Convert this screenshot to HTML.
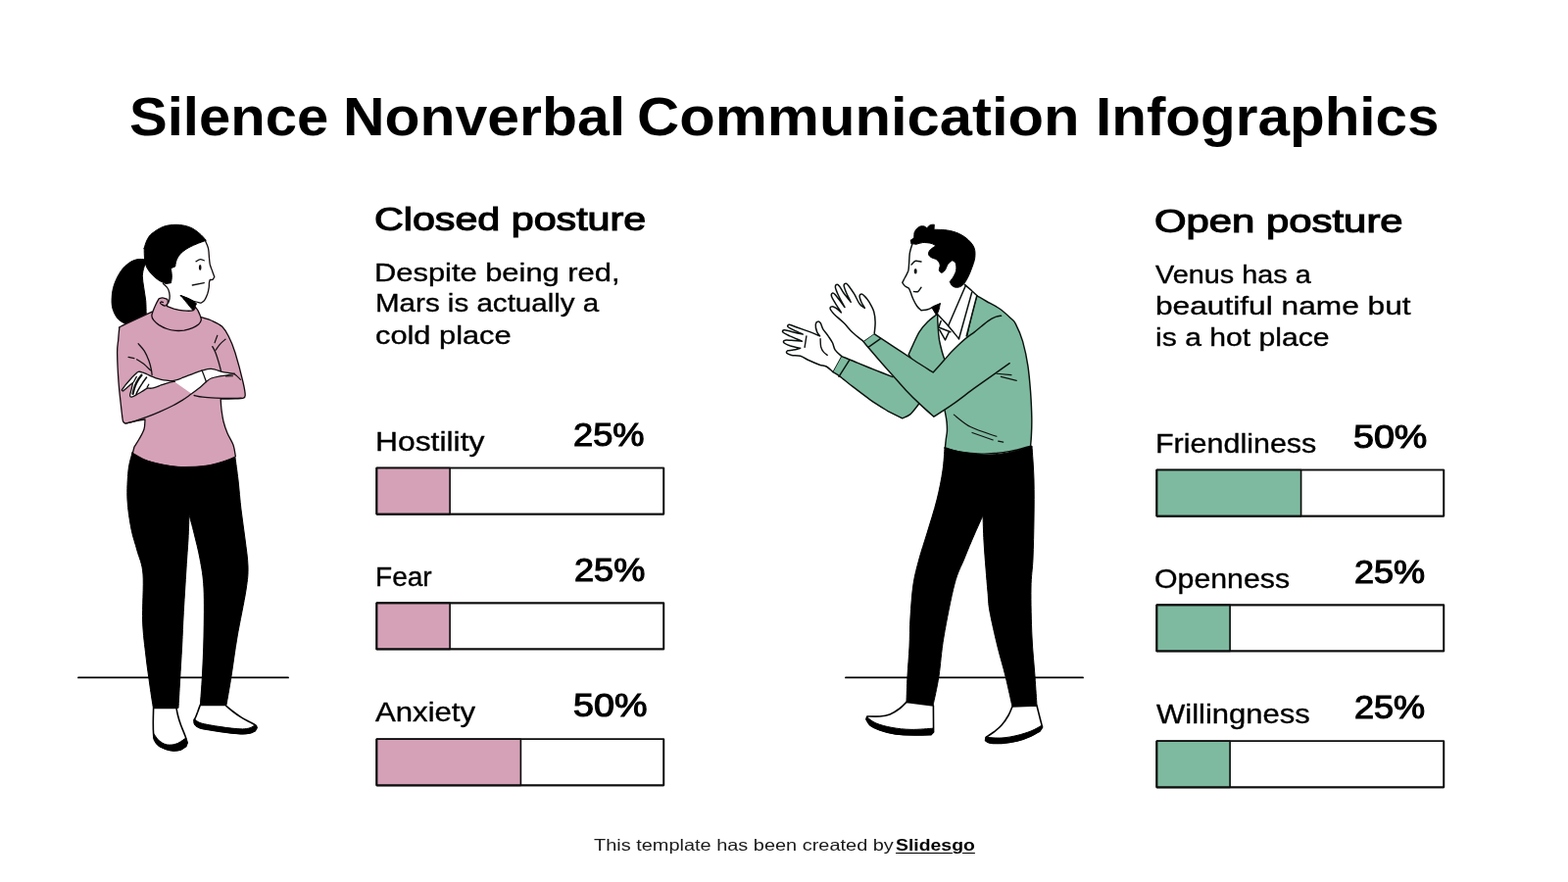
<!DOCTYPE html>
<html lang="en">
<head>
<meta charset="utf-8">
<title>Silence Nonverbal Communication Infographics</title>
<style>
html,body{margin:0;padding:0;background:#fff;}
body{width:1600px;height:900px;position:relative;overflow:hidden;font-family:"Liberation Sans",sans-serif;color:#000;}
h1{margin:0;font-size:0;line-height:0;}
.t{position:absolute;white-space:nowrap;line-height:1;transform-origin:0 0;margin:0;font-weight:normal;}
svg{position:absolute;left:0;top:0;overflow:visible;}
</style>
</head>
<body>
<!--TEXT-->
<h1 id="title"><span class="t" id="t1" style="left:131.95px;top:92.55px;font-size:54.65px;font-weight:bold;transform:scaleX(1.0622);">Silence</span> <span class="t" id="t2" style="left:349.98px;top:92.55px;font-size:54.65px;font-weight:bold;transform:scaleX(1.0786);">Nonverbal</span> <span class="t" id="t3" style="left:649.96px;top:92.55px;font-size:54.65px;font-weight:bold;transform:scaleX(1.0936);">Communication</span> <span class="t" id="t4" style="left:1117.61px;top:92.55px;font-size:54.65px;font-weight:bold;transform:scaleX(1.0692);">Infographics</span></h1>
<div class="t" id="h2a" style="left:381.71px;top:206.80px;font-size:33.21px;-webkit-text-stroke:1.15px #000;transform:scaleX(1.2410);">Closed posture</div>
<div class="t" id="ba1" style="left:382.49px;top:265.90px;font-size:25.44px;transform:scaleX(1.2132);-webkit-text-stroke:0.35px #000;">Despite being red,</div>
<div class="t" id="ba2" style="left:382.72px;top:296.89px;font-size:25.44px;transform:scaleX(1.1616);-webkit-text-stroke:0.35px #000;">Mars is actually a</div>
<div class="t" id="ba3" style="left:383.04px;top:329.89px;font-size:25.44px;transform:scaleX(1.2104);-webkit-text-stroke:0.35px #000;">cold place</div>
<div class="t" id="l1" style="left:382.56px;top:437.66px;font-size:26.89px;transform:scaleX(1.1845);-webkit-text-stroke:0.35px #000;">Hostility</div>
<div class="t" id="p1" style="left:585.24px;top:426.69px;font-size:33.94px;-webkit-text-stroke:1.15px #000;transform:scaleX(1.0674);">25%</div>
<div class="t" id="l2" style="left:383.23px;top:575.76px;font-size:26.74px;transform:scaleX(1.0494);-webkit-text-stroke:0.35px #000;">Fear</div>
<div class="t" id="p2" style="left:585.75px;top:564.82px;font-size:33.79px;-webkit-text-stroke:1.15px #000;transform:scaleX(1.0680);">25%</div>
<div class="t" id="l3" style="left:383.28px;top:713.77px;font-size:26.74px;transform:scaleX(1.1642);-webkit-text-stroke:0.35px #000;">Anxiety</div>
<div class="t" id="p3" style="left:585.44px;top:702.68px;font-size:33.94px;-webkit-text-stroke:1.15px #000;transform:scaleX(1.1105);">50%</div>
<div class="t" id="h2b" style="left:1178.03px;top:208.80px;font-size:33.21px;-webkit-text-stroke:1.15px #000;transform:scaleX(1.2604);">Open posture</div>
<div class="t" id="bb1" style="left:1179.18px;top:267.90px;font-size:25.44px;transform:scaleX(1.1332);-webkit-text-stroke:0.35px #000;">Venus has a</div>
<div class="t" id="bb2" style="left:1179.37px;top:299.90px;font-size:25.44px;transform:scaleX(1.2454);-webkit-text-stroke:0.35px #000;">beautiful name but</div>
<div class="t" id="bb3" style="left:1178.76px;top:331.91px;font-size:25.44px;transform:scaleX(1.1844);-webkit-text-stroke:0.35px #000;">is a hot place</div>
<div class="t" id="l4" style="left:1178.76px;top:439.54px;font-size:27.03px;transform:scaleX(1.1285);-webkit-text-stroke:0.35px #000;">Friendliness</div>
<div class="t" id="p4" style="left:1381.43px;top:428.68px;font-size:33.94px;-webkit-text-stroke:1.15px #000;transform:scaleX(1.1098);">50%</div>
<div class="t" id="l5" style="left:1178.19px;top:577.79px;font-size:26.74px;transform:scaleX(1.1331);-webkit-text-stroke:0.35px #000;">Openness</div>
<div class="t" id="p5" style="left:1381.76px;top:566.69px;font-size:33.94px;-webkit-text-stroke:1.15px #000;transform:scaleX(1.0631);">25%</div>
<div class="t" id="l6" style="left:1179.59px;top:715.77px;font-size:26.74px;transform:scaleX(1.1600);-webkit-text-stroke:0.35px #000;">Willingness</div>
<div class="t" id="p6" style="left:1381.76px;top:704.69px;font-size:33.94px;-webkit-text-stroke:1.15px #000;transform:scaleX(1.0631);">25%</div>
<div class="t" id="foot1" style="left:605.69px;top:854.79px;font-size:16.72px;transform:scaleX(1.1933);color:#1a1a1a;">This template has been created by</div>
<div class="t" id="foot2" style="left:914.45px;top:854.79px;font-size:16.72px;font-weight:bold;transform:scaleX(1.1616);text-decoration:underline;text-underline-offset:1.5px;text-decoration-thickness:1.3px;">Slidesgo</div>
<!--/TEXT-->
<!--BARS-->
<svg id="bars" width="1600" height="900" viewBox="0 0 1600 900" stroke="#0d0d0d" stroke-width="1.65" stroke-linejoin="round">
<rect x="384.4" y="477.5" width="292.9" height="47.1" fill="#fff"/><rect x="384.4" y="477.5" width="74.7" height="47.1" fill="#d5a1b7"/><rect x="384.4" y="477.5" width="292.9" height="47.1" fill="none"/>
<rect x="384.4" y="615.3" width="292.9" height="47.1" fill="#fff"/><rect x="384.4" y="615.3" width="74.7" height="47.1" fill="#d5a1b7"/><rect x="384.4" y="615.3" width="292.9" height="47.1" fill="none"/>
<rect x="384.4" y="754.2" width="292.9" height="47.1" fill="#fff"/><rect x="384.4" y="754.2" width="147.0" height="47.1" fill="#d5a1b7"/><rect x="384.4" y="754.2" width="292.9" height="47.1" fill="none"/>
<rect x="1180.4" y="479.5" width="292.9" height="47.1" fill="#fff"/><rect x="1180.4" y="479.5" width="147.2" height="47.1" fill="#7ebaa0"/><rect x="1180.4" y="479.5" width="292.9" height="47.1" fill="none"/>
<rect x="1180.4" y="617.3" width="292.9" height="47.1" fill="#fff"/><rect x="1180.4" y="617.3" width="74.7" height="47.1" fill="#7ebaa0"/><rect x="1180.4" y="617.3" width="292.9" height="47.1" fill="none"/>
<rect x="1180.4" y="756.2" width="292.9" height="47.1" fill="#fff"/><rect x="1180.4" y="756.2" width="74.7" height="47.1" fill="#7ebaa0"/><rect x="1180.4" y="756.2" width="292.9" height="47.1" fill="none"/>
</svg>
<!--/BARS-->
<!--FIGS-->
<svg id="woman" width="1600" height="900" viewBox="0 0 1600 900" stroke-linecap="round" stroke-linejoin="round">
<line x1="80" y1="691.4" x2="294" y2="691.4" stroke="#000" stroke-width="1.9" stroke-linecap="round"/>
<path d="M148,264.7C146.7,264.7 142.7,264.1 140,264.7C137.3,265.3 134.4,266.3 131.7,268.3C128.9,270.3 125.8,273.1 123.3,276.7C120.8,280.3 118.2,285.6 116.7,290C115.1,294.4 114.4,299.2 114.2,303.3C113.9,307.5 114,311.4 115,315C116,318.6 117.9,322.4 120,325C122.1,327.6 126.2,329.4 127.5,330.3C129.3,329.7 134.7,328.4 138.3,326.7C141.9,324.9 147.4,321.1 149.2,320C149.1,317.8 149.1,311.1 148.7,306.7C148.2,302.2 147.2,297.5 146.7,293.3C146.1,289.2 145.3,285.1 145.3,281.7C145.4,278.2 146.4,274.7 147,272.5C147.6,270.3 148.8,269 149.2,268.3Z" fill="#000" stroke="#000" stroke-width="1"/>
<path d="M166.5,289.5C167.2,290.2 169.9,292.4 171,294C172.1,295.6 172.5,297.2 172.8,299C173.2,300.8 173.2,303.2 173,305C172.8,306.8 171.6,309.2 171.3,310L200,318.3C199.6,316.9 199.7,312.6 197.5,310C195.3,307.4 188.5,303.8 186.7,302.5" fill="#fff" stroke="none"/>
<path d="M166.5,289.5C167.2,290.2 169.9,292.4 171,294C172.1,295.6 172.5,297.2 172.8,299C173.2,300.8 173.2,303.3 173,305C172.8,306.7 171.9,308.5 171.7,309.2" fill="none" stroke="#120a0e" stroke-width="1.3"/>
<path d="M209.2,245C209.7,246.4 211.8,250.3 212.5,253.3C213.2,256.4 213.2,260.6 213.5,263.3C213.8,266.1 213.8,267.8 214.3,270C214.9,272.2 215.9,274.6 216.7,276.7C217.4,278.8 218.5,281.5 218.8,282.5C218.5,283 217.8,284.9 217,285.3C216.2,285.8 214.8,285.3 214.3,285.3C214.2,285.8 213.7,287 213.5,288.3C213.3,289.7 213.5,291.4 213.2,293.3C212.9,295.3 212.4,297.8 211.7,300C210.9,302.2 209.8,304.8 208.7,306.3C207.6,307.9 205.6,308.7 205,309.2C203.9,308.9 200.8,308.3 198.3,307.5C195.8,306.7 192.4,305.1 190,304.2C187.6,303.2 185.1,302.1 184.2,301.7" fill="#fff" stroke="#120a0e" stroke-width="1.3"/>
<path d="M184.7,301.7C186.1,302.2 190.7,303.7 193.3,305C196,306.3 199.3,308.9 200.5,309.7L197.2,317C196,315.6 192.1,310.9 190,308.3C187.9,305.8 185.6,302.8 184.7,301.7Z" fill="#000" stroke="#000" stroke-width="1"/>
<path d="M200,266.8C200.7,266.5 202.8,264.8 204.2,264.7C205.6,264.5 207.6,265.6 208.3,265.8" fill="none" stroke="#111" stroke-width="1.3"/>
<ellipse cx="204.2" cy="273" rx="1.3" ry="3" fill="#120a0e"/>
<path d="M196.3,291L208.3,288.7" fill="none" stroke="#111" stroke-width="1.3"/>
<path d="M147.2,253.3C147.6,251.9 148.7,247.5 150,245C151.3,242.5 152.2,240.6 155,238.3C157.8,236.1 162.5,232.8 166.7,231.3C170.8,229.8 175.6,229.3 180,229.3C184.4,229.4 189.4,230.2 193.3,231.7C197.2,233.1 200.5,235.7 203.3,238C206.2,240.3 209.2,244.1 210.3,245.3C208.6,246 203.4,247.7 200,249.2C196.6,250.6 192.8,252.4 190,254.2C187.2,256 185,258.1 183.3,260C181.7,261.9 180.8,263.8 180,265.8C179.2,267.8 178.9,271 178.7,272L174.3,273.7C174.5,275 175.3,279.2 175.3,281.7C175.4,284.2 174.6,287.5 174.5,288.7L169.2,289.5C167.9,288.9 164,287.4 161.7,285.8C159.3,284.2 156.9,282.1 155,280C153.1,277.9 151.2,275.8 150,273.3C148.8,270.8 148.1,268.3 147.7,265C147.2,261.7 147.2,255.3 147.2,253.3Z" fill="#000" stroke="#000" stroke-width="1"/>
<path d="M155.2,318.2L140,325.2C137.2,326.5 126,331.7 123,333.3C120,335 122.2,332.8 121.8,335C121.4,337.2 121,342.5 120.7,346.7C120.3,350.8 119.5,352.8 119.6,360C119.7,367.2 120.4,381.7 121,390C121.6,398.3 122.4,404.3 123,410C123.6,415.7 124.2,420.7 124.6,424C125,427.3 125,428.6 125.6,430C126.2,431.4 127.6,431.8 128,432.2L140,429.4L148,428C147.8,429.7 148,434.7 147,438C146,441.3 143.7,445 142,448C140.3,451 137.8,454.7 137,456L135,463.6C137.5,464.7 142.5,468.3 150,470.4C157.5,472.5 170,475.6 180,476.4C190,477.2 201.7,476.4 210,475.4C218.3,474.4 224.9,472 230,470.4C235.1,468.8 238.7,466.7 240.4,466C240,464 239.4,458 238,454C236.6,450 233.7,446 232,442C230.3,438 229,434 228,430C227,426 226.5,421.8 226,418C225.5,414.2 225.3,409 225.2,407.2C227.7,407.1 236.3,406.9 240,406.8C243.7,406.7 245.9,406.9 247.6,406.4C249.3,405.9 250.1,406.3 250.2,403.6C250.3,400.9 249.7,397.3 248,390C246.3,382.7 242.4,367.8 240,360C237.6,352.2 235.6,347.8 233.3,343.3C231.1,338.9 229.4,336 226.7,333.3C223.9,330.7 220.2,329.1 216.7,327.5C213.1,325.9 207.2,324.3 205.3,323.7Z" fill="#d5a1b7" stroke="#120a0e" stroke-width="1.3"/>
<path d="M162.2,304.7C161.7,305.6 160.2,308 159.2,310.2C158.2,312.3 156.8,315.5 156.1,317.5C155.4,319.5 154.8,320.9 154.9,322.4C155,323.9 155.5,325.2 156.7,326.7C157.9,328.2 160,330.1 162.2,331.6C164.5,333 167.3,334.6 170.2,335.5C173,336.5 176.4,337.1 179.3,337.4C182.3,337.6 185.1,337.5 187.9,337.1C190.8,336.6 194,335.6 196.5,334.6C198.9,333.6 201.1,332.3 202.6,331C204.1,329.6 205,328.1 205.3,326.7C205.6,325.3 205,324 204.4,322.4C203.9,320.8 202.4,317.8 202,316.9L199.6,313.5C199.1,314.1 198.6,316.3 196.5,316.9C194.3,317.5 189.8,317.2 186.7,316.9C183.5,316.6 180.3,315.8 177.5,315.1C174.8,314.3 171.4,312.8 170.2,312.3C170.4,311.7 171.2,309.5 171.3,308.3C171.4,307.2 170.9,305.8 170.8,305.3C170,305 167.3,304 165.9,303.9C164.5,303.8 162.8,304.5 162.2,304.7Z" fill="#d5a1b7" stroke="#120a0e" stroke-width="1.3"/>
<path d="M170.5,310.5C170.1,310.8 169.2,312.1 168.3,312.1C167.5,312.2 166.1,311.3 165.3,310.8C164.5,310.3 163.7,309.7 163.6,309.3C163.4,308.8 164,308.2 164.5,308C165,307.9 166.1,308.4 166.4,308.5" fill="none" stroke="#120a0e" stroke-width="1.3"/>
<path d="M141.3,379.3C141.9,379.4 143.4,379.3 144.9,379.8C146.4,380.2 148.4,381.2 150.2,382C152,382.8 153.9,383.7 155.6,384.4C157.2,385.1 158.5,385.7 160,386.2C161.5,386.7 162.8,387 164.4,387.3C166.1,387.7 168,388 170,388.2C172,388.4 173.8,389 176.2,388.6C178.8,388.3 181.4,387.3 185,386C188.6,384.7 194.6,382.1 198.1,380.8C201.6,379.4 203.1,378.9 206,378.1C208.9,377.4 211.8,376.1 215.6,376.4C219.4,376.7 224.8,379.1 228.8,379.9C232.7,380.7 237.5,381 239.2,381.2L239.2,381.8C237.9,382 233.9,382.6 231.4,382.9C228.9,383.3 227,383.3 224.4,383.8C221.8,384.3 218,385.1 215.6,386C213.3,386.9 212.6,387.8 210.4,389.5C208.2,391.2 205,394.5 202.5,396.5C200,398.5 196.7,400.9 195.5,401.8L178,389.5C177.4,389.6 175.8,389.7 174.5,389.9C173.2,390.2 171.7,390.6 170,391.1C168.3,391.6 166.1,392.3 164.4,392.9C162.8,393.5 161.6,394.1 160,394.7C158.4,395.2 156.2,396 154.7,396.2C153.1,396.4 151.3,396 150.7,396C150.4,396.1 150,396.2 148.9,396.9C147.8,397.6 145.7,399 144,400C142.3,401 140.2,402.3 138.7,403.1C137.1,403.9 135.6,404.7 134.7,405C133.7,405.2 133.3,405.1 133,404.7C132.6,404.3 132.5,404 132.7,402.7C132.9,401.4 133.7,398.9 134.2,396.9C134.7,394.9 135.3,391.5 135.6,390.4C134.7,391.2 131.8,393.7 130.2,395.1C128.6,396.5 126.9,398.1 126,398.7C125.1,399.3 125.2,398.9 125,398.8C124.7,398.7 123.9,399 124.4,398C124.9,397 126.5,394.8 128,392.9C129.5,391 131.6,388.6 133.3,386.7C135.1,384.7 137.3,382.6 138.7,381.3C140,380.1 140.9,379.7 141.3,379.3Z" fill="#fff" stroke="none"/>
<path d="M124.4,398C125,397.1 126.5,394.8 128,392.9C129.5,391 131.6,388.6 133.3,386.7C135.1,384.7 137.3,382.6 138.7,381.3C140,380.1 140.3,379.6 141.3,379.3C142.4,379.1 143.4,379.3 144.9,379.8C146.4,380.2 148.4,381.2 150.2,382C152,382.8 153.9,383.7 155.6,384.4C157.2,385.1 158.5,385.7 160,386.2C161.5,386.7 162.8,387 164.4,387.3C166.1,387.7 168,388 170,388.2C172,388.4 173.8,389 176.2,388.6C178.8,388.3 181.4,387.3 185,386C188.6,384.7 194.6,382.1 198.1,380.8C201.6,379.4 203.1,378.9 206,378.1C208.9,377.4 211.8,376.1 215.6,376.4C219.4,376.7 224.8,379.1 228.8,379.9C232.7,380.7 237.5,381 239.2,381.2" fill="none" stroke="#111" stroke-width="1.3"/>
<path d="M124.4,398C124.5,398.1 124.7,398.7 125,398.8C125.2,398.9 125.1,399.3 126,398.7C126.9,398.1 128.6,396.5 130.2,395.1C131.8,393.7 134.7,391.2 135.6,390.4C135.3,391.5 134.7,394.9 134.2,396.9C133.7,398.9 132.9,401.4 132.7,402.7C132.5,404 132.6,404.3 133,404.7C133.3,405.1 133.7,405.2 134.7,405C135.6,404.7 137.1,403.9 138.7,403.1C140.2,402.3 142.3,401 144,400C145.7,399 148.1,397.4 148.9,396.9C149.2,396.7 149.7,396.1 150.7,396C151.6,395.9 153.1,396.4 154.7,396.2C156.2,396 158.4,395.2 160,394.7C161.6,394.1 162.8,393.5 164.4,392.9C166.1,392.3 168.3,391.6 170,391.1C171.7,390.6 173.1,390.2 174.5,389.9C175.9,389.6 177.8,389.4 178.4,389.3" fill="none" stroke="#111" stroke-width="1.3"/>
<path d="M151.8,392.2L150.2,395.1" fill="none" stroke="#111" stroke-width="1.2"/>
<path d="M144.4,382.8C143.9,383.6 142,385.7 140.9,387.6C139.8,389.4 138.7,391.4 137.8,393.8C136.9,396.1 135.9,400.4 135.6,401.8" fill="none" stroke="#111" stroke-width="2.3"/>
<path d="M149.6,385C148.8,386.1 146.3,389.3 144.9,391.6C143.4,393.8 141.9,396.4 140.9,398.2C139.9,400 139.2,401.7 138.9,402.4" fill="none" stroke="#111" stroke-width="1.5"/>
<path d="M139.3,384.4L136.4,389.8" fill="none" stroke="#111" stroke-width="1.2"/>
<path d="M206,378.1C206.4,379 207.5,381.5 208.2,383.4C208.9,385.3 210,388.5 210.4,389.5" fill="none" stroke="#111" stroke-width="1.3"/>
<path d="M210.4,389.5C211.2,388.9 213.3,386.9 215.6,386C218,385.1 221.8,384.3 224.4,383.8C227,383.3 228.9,383.3 231.4,382.9C233.9,382.6 237.9,381.8 239.2,381.6" fill="none" stroke="#111" stroke-width="1.3"/>
<path d="M230.5,383.9L237.5,383.7" fill="none" stroke="#111" stroke-width="1.1"/>
<path d="M239.2,381.6C239.7,382 240.9,382.9 241.9,383.8C242.9,384.8 244.8,386.7 245.4,387.3" fill="none" stroke="#111" stroke-width="1.1"/>
<path d="M129,431.9C130.3,431.6 133.4,430.8 136.9,429.8C140.4,428.7 145.6,427 150,425.4C154.4,423.8 158.8,422 163.1,420.1C167.5,418.2 172.3,416 176.2,414C180.2,412 183.5,409.9 186.8,407.9C190,405.8 192.9,403.6 195.5,401.8C198.1,399.9 200,398.5 202.5,396.5C205,394.5 209.1,390.7 210.4,389.5" fill="none" stroke="#111" stroke-width="1.3"/>
<path d="M198.1,403.5C199.6,403.8 203.2,404.8 206.9,405.2C210.5,405.7 214.9,405.9 220,406.1C225.1,406.3 233.1,406.3 237.5,406.3C241.9,406.3 244.8,406.2 246.2,406.1" fill="none" stroke="#111" stroke-width="1.3"/>
<path d="M141.1,350.7C142.1,352 145.5,355.2 147.3,358.1C149.1,361 150.8,365.1 152,368.2C153.2,371.3 153.8,374.4 154.3,376.8C154.9,379.2 155,381.6 155.1,382.6" fill="none" stroke="#111" stroke-width="1.3"/>
<path d="M131,364.4L137,365.6" fill="none" stroke="#111" stroke-width="1.1"/>
<path d="M139.6,366.7C140.7,367.4 144.2,369.5 146.6,371.3C148.9,373.2 152.4,376.8 153.6,377.9" fill="none" stroke="#111" stroke-width="1.2"/>
<path d="M221.8,342.3C221.6,342.9 220.7,344.9 220.3,346.2C219.8,347.4 219.3,349.1 219.1,349.7" fill="none" stroke="#111" stroke-width="1.2"/>
<path d="M230,346.2C229.1,347 226.2,349.3 224.6,351.2C222.9,353.1 220.7,356.4 219.9,357.4" fill="none" stroke="#111" stroke-width="1.2"/>
<path d="M216.8,353.6C217.3,354.6 218.9,357.2 219.9,359.8C220.9,362.4 222.2,366.5 223,369.1C223.8,371.8 224.4,374.1 224.8,375.7C225.2,377.3 225.3,378.1 225.4,378.6" fill="none" stroke="#111" stroke-width="1.3"/>
<path d="M135,462C137.5,463.3 144.2,467.8 150,470C155.8,472.2 162.7,473.8 170,475C177.3,476.2 186,477.2 194,477C202,476.8 210.3,475.7 218,474C225.7,472.3 236.3,468.2 240,467C240.5,470.8 242,481.2 243,490C244,498.8 244.8,510 246,520C247.2,530 248.8,540.3 250,550C251.2,559.7 252.8,569.3 253,578C253.2,586.7 252.8,590 251,602C249.2,614 244.5,635.3 242,650C239.5,664.7 237.8,678.4 236,690C234.2,701.6 231.8,714.5 231,719.4C230.2,719.7 230.4,721.3 226,721.2C221.6,721.1 208,719.4 204.4,719C204.7,714.2 205.8,701.5 206.4,690C207,678.5 207.7,665 208,650C208.3,635 208.7,613.3 208,600C207.3,586.7 205.7,579.3 204,570C202.3,560.7 199.8,551.5 198,544C196.2,536.5 193.8,528.2 193,525C192.8,529.2 192.5,540.8 192,550C191.5,559.2 190.8,566.7 190,580C189.2,593.3 187.7,616.7 187,630C186.3,643.3 186.2,649.3 185.6,660C185,670.7 184.2,683.6 183.6,694C183,704.4 182.3,717.7 182,722.4L156.4,722.4C155.8,718.7 154.2,708.7 153,700C151.8,691.3 150.2,681 149,670C147.8,659 146.1,648 145.6,634C145.1,620 146.9,598 146,586C145.1,574 142,569.7 140,562C138,554.3 135.7,548.7 134,540C132.3,531.3 130.5,520 130,510C129.5,500 130.2,488 131,480C131.8,472 134.3,465 135,462Z" fill="#000" stroke="#000" stroke-width="1"/>
<path d="M156.6,722.5C156.6,725 156.3,733.1 156.3,737.5C156.3,741.9 156.4,745.9 156.6,748.8C156.8,751.6 156.6,752.8 157.5,754.8C158.4,756.8 160,759.1 162,760.8C164,762.4 167,763.6 169.5,764.5C172,765.4 174.5,765.9 177,766C179.5,766.1 182.4,765.6 184.5,764.9C186.6,764.1 188.9,762.1 189.8,761.5L191.1,757.9C190.8,756.8 190.1,754 189,751C187.9,748 185.8,743.2 184.5,739.8C183.2,736.2 182.2,732.9 181.5,730C180.8,727.1 180.2,723.8 180,722.5Z" fill="#fff" stroke="#000" stroke-width="1.6"/>
<path d="M156.6,748.4C156.8,749.4 156.6,752.7 157.5,754.8C158.4,756.8 160,759.1 162,760.8C164,762.4 167,763.6 169.5,764.5C172,765.4 174.5,765.9 177,766C179.5,766.1 182.4,765.6 184.5,764.9C186.6,764.1 188.9,762.1 189.8,761.5L191.1,757.9L189.6,752.9C189.1,753.2 188.1,754.2 186.8,755.1C185.4,756 183.6,757.5 181.5,758.4C179.4,759.2 176.4,760.1 174,760.1C171.6,760.2 169.4,759.8 167.2,758.9C165.1,758 162.2,755.4 161.2,754.8L156.6,748.4Z" fill="#000" stroke="#000" stroke-width="1"/>
<path d="M204.4,719.1C203.9,720.3 202.6,723.9 201.8,726.2C200.9,728.6 199.6,731.9 199.1,733L198,734.6C198.1,735.4 197.8,737.6 198.8,739C199.8,740.4 201.5,741.8 204,742.8C206.5,743.7 210.2,744 213.8,744.6C217.2,745.2 221.2,745.9 225,746.5C228.8,747.1 232.5,747.6 236.2,748C240,748.4 244.4,748.8 247.5,748.8C250.6,748.8 252.9,748.5 255,748C257.1,747.5 259.4,746.1 260.2,745.8L262.1,742.5C261.9,742.1 262,741.1 260.9,740.1C259.7,739.2 257.5,738.1 255,736.8C252.5,735.4 249,733.8 246,731.9C243,730 239.7,727.6 237,725.5C234.3,723.4 231.1,720.5 229.9,719.5Z" fill="#fff" stroke="#000" stroke-width="1.6"/>
<path d="M198.4,733.8C198.4,734.6 197.8,737.5 198.8,739C199.7,740.5 201.5,741.8 204,742.8C206.5,743.7 210.2,744 213.8,744.6C217.2,745.2 221.2,745.9 225,746.5C228.8,747.1 232.5,747.6 236.2,748C240,748.4 244.4,748.8 247.5,748.8C250.6,748.8 252.9,748.5 255,748C257.1,747.5 259.4,746.1 260.2,745.8L262.1,742.5L260.2,739.9C259.4,740.4 257.1,742.1 255,742.8C252.9,743.4 250.6,743.8 247.5,743.9C244.4,743.9 240,743.5 236.2,743.1C232.5,742.8 228.8,742.2 225,741.6C221.2,741.1 217.2,740.4 213.8,739.8C210.2,739.1 206.6,738.5 204,737.5C201.4,736.5 199.3,734.4 198.4,733.8Z" fill="#000" stroke="#000" stroke-width="1"/>
</svg>
<svg id="man" width="1600" height="900" viewBox="0 0 1600 900" stroke-linecap="round" stroke-linejoin="round">
<line x1="863" y1="691.4" x2="1105" y2="691.4" stroke="#000" stroke-width="1.9" stroke-linecap="round"/>
<path d="M858.4,363.3C861.3,364.5 869.6,368.1 875.3,370.4C881.1,372.8 887.2,375.2 893.1,377.6C899,379.9 907.9,383.5 910.9,384.7L950,394.4L937.6,412.2L928.7,422.9L920.7,426.8C918.1,425.6 911,422.5 905.6,419.3C900.1,416.2 893.7,411.9 887.8,407.8C881.9,403.6 875.2,398.4 870,394.4C864.8,390.4 860.1,386.3 856.7,383.8C853.3,381.3 850.7,380.1 849.6,379.3Z" fill="#7ebaa0" stroke="none"/>
<path d="M910.9,384.7C907.9,383.5 899,379.9 893.1,377.6C887.2,375.2 881.1,372.8 875.3,370.4C869.6,368.1 861.3,364.5 858.4,363.3L849.6,379.3C850.7,380.1 853.3,381.3 856.7,383.8C860.1,386.3 864.8,390.4 870,394.4C875.2,398.4 881.9,403.6 887.8,407.8C893.7,411.9 902.6,417.4 905.6,419.3L920.7,426.8C922,426.1 925.9,425.3 928.7,422.9C931.5,420.5 936.1,414 937.6,412.2" fill="none" stroke="#0a120e" stroke-width="1.45"/>
<path d="M866.8,367.4L856,384.3" fill="none" stroke="#0a120e" stroke-width="1.45"/>
<path d="M858.4,363.3C857.4,362.3 853.7,359.3 852.2,357.1C850.7,354.9 850.7,352.4 849.6,350C848.4,347.6 846.7,345.3 845.1,342.9C843.5,340.5 841.1,338 839.8,335.8C838.5,333.6 838.1,331 837.3,329.7C836.4,328.4 835.5,327.7 834.6,328C833.8,328.2 832.5,329.4 832.3,331.2C832.1,332.9 832.8,336.5 833.6,338.4C834.3,340.4 836.1,342.1 836.6,342.9C834.7,342.1 829.5,339.9 825.6,338.4C821.6,337 816.4,335.2 813.1,334C809.8,332.8 807.2,331.5 805.6,331.3C804.1,331.2 803.2,332.4 803.9,333.3C804.5,334.2 807,335.4 809.6,336.7C812.1,338 817.7,340.4 819.3,341.1C817.4,340.7 810.9,339.2 807.8,338.4C804.6,337.7 801.8,336.6 800.3,336.7C798.8,336.8 797.9,337.9 798.9,339C799.8,340 802.7,341.3 806,342.9C809.3,344.4 816.4,347.3 818.4,348.2C816.7,348.1 810.7,347.5 807.8,347.3C804.9,347.2 802.4,346.8 801,347.2C799.7,347.5 798.9,348.7 799.8,349.6C800.6,350.6 803.2,351.7 806,352.7C808.8,353.6 814.9,354.9 816.7,355.3C815.5,355.6 811.7,356.7 809.6,357.1C807.4,357.5 804.8,357.3 803.7,357.8C802.6,358.4 802.1,359.5 802.8,360.3C803.5,361.1 805.5,361.9 807.8,362.4C810.1,362.9 813.7,362.4 816.7,363.3C819.6,364.2 822.3,366.3 825.6,367.8C828.8,369.3 833.3,371.2 836.2,372.2C839.2,373.3 841.1,372.8 843.3,374C845.6,375.2 848.5,378.4 849.6,379.3" fill="#fff" stroke="#0a120e" stroke-width="1.5"/>
<path d="M822.9,342.9L821.1,354.4" fill="none" stroke="#111" stroke-width="1.4"/>
<path d="M837.1,345.6C837.2,346.9 837.1,351.3 837.6,353.6C838.1,355.8 839,357.4 840.1,358.9C841.2,360.4 843.5,361.9 844.2,362.4" fill="none" stroke="#111" stroke-width="1.4"/>
<path d="M955.8,320.8C954.3,322.1 949.6,325.4 946.7,328.3C943.8,331.2 940.8,334.4 938.3,338.3C935.8,342.2 933.5,347.8 931.7,351.7C929.8,355.6 927.9,360.1 927.1,361.8L964.1,419C964.4,420.9 965.7,426.7 966,430.2C966.4,433.7 966.5,437 966.4,440C966.3,443 965.7,445.2 965.3,448C965,450.8 964.6,455.4 964.4,456.9C967,457.6 972.9,460.3 979.6,461.3C986.2,462.4 995.9,463.3 1004.4,463.1C1013,463 1023.3,461.8 1031.1,460.4C1039,459.1 1048.1,456 1051.6,455.1C1051.7,453.3 1052.2,449.2 1052.4,444.4C1052.7,439.7 1052.9,434.1 1052.8,426.7C1052.7,419.3 1052.2,408.9 1051.6,400C1050.9,391.1 1050.2,381.9 1048.9,373.3C1047.6,364.7 1045.6,355.6 1043.6,348.4C1041.5,341.3 1038.4,334.6 1036.4,330.7C1034.5,326.8 1034.4,327.6 1031.7,325C1028.9,322.4 1024.2,317.9 1020,315C1015.8,312.1 1010.6,309.7 1006.7,307.5C1002.8,305.3 998.3,302.6 996.7,301.7C995.8,305 993,314.9 991.3,321.7C989.7,328.5 987.4,339 986.7,342.5L966.7,331.7Z" fill="#7ebaa0" stroke="#0a120e" stroke-width="1.45"/>
<path d="M955.8,320.8C956.1,322.6 957.1,327.6 957.5,331.7C957.9,335.7 957.8,340.8 958.3,345C958.9,349.2 959.9,353.1 960.8,356.7C961.7,360.3 963.3,365 963.8,366.7C965,365.4 968.5,361.6 970.9,359.1C973.3,356.7 975.4,354.4 978,352C980.6,349.6 985,345.7 986.4,344.4C986.5,344.1 985.9,346.3 986.7,342.5C987.5,338.7 989.7,328.5 991.3,321.7C993,314.9 995.8,305 996.7,301.7L984.2,292.5L969.2,288.3L959.2,310Z" fill="#fff" stroke="none"/>
<path d="M956.7,320.9C956.7,323 956.8,329 957.1,333.3C957.4,337.6 957.8,342.5 958.4,346.7C959.1,350.8 960.2,354.9 961.1,358.2C962,361.6 963.3,365.3 963.8,366.7" fill="none" stroke="#0a120e" stroke-width="1.45"/>
<path d="M985.1,292L967.6,332.5" fill="none" stroke="#0a120e" stroke-width="1.5"/>
<path d="M991.7,298.2L978.5,345.7" fill="none" stroke="#0a120e" stroke-width="1.5"/>
<path d="M996.8,301.7L986.2,343" fill="none" stroke="#0a120e" stroke-width="1.5"/>
<path d="M984.3,290.4C985.5,291.5 989.6,294.8 991.7,296.7C993.8,298.5 995.9,300.7 996.8,301.5" fill="none" stroke="#0a120e" stroke-width="1.5"/>
<path d="M956.7,320.8C958.5,322.7 963.9,328.3 967.6,332.5C971.2,336.6 976.6,343.5 978.5,345.7" fill="none" stroke="#0a120e" stroke-width="1.5"/>
<path d="M960.2,327.4L957.8,334L969.9,338.7" fill="none" stroke="#0a120e" stroke-width="1.5"/>
<path d="M958.6,336.4L964.5,346.9L968.3,338.7" fill="none" stroke="#0a120e" stroke-width="1.5"/>
<path d="M1016.9,381.3L1032,382.6" fill="none" stroke="#111" stroke-width="1.1"/>
<path d="M1021.3,384.4L1037.3,388.4" fill="none" stroke="#111" stroke-width="1.1"/>
<path d="M973.3,423.1C976.1,425.2 983,431.9 990.2,435.6C997.5,439.3 1012.4,443.7 1016.9,445.3" fill="none" stroke="#111" stroke-width="1.1"/>
<path d="M992,441.4L1013.3,448.9" fill="none" stroke="#111" stroke-width="1.1"/>
<path d="M1018.7,450.1L1023.6,451.2" fill="none" stroke="#111" stroke-width="1.3"/>
<path d="M1021.6,322.2C1020.5,322.4 1017.6,322.7 1015.3,323.6C1013.1,324.4 1010.6,325.9 1008.2,327.6C1005.9,329.2 1003.5,331.4 1001.1,333.3C998.7,335.3 996.5,337.2 994,339.1C991.5,341 988.7,342.7 986,344.9C983.3,347 980.5,349.6 978,352C975.5,354.4 973.3,356.6 970.9,359.1C968.5,361.6 966.9,363.6 963.8,367.1C960.7,370.6 954.1,377.9 952.2,380C949.1,378 940,372.4 933.3,368C926.6,363.6 919,358.4 912,353.8C905,349.2 895,342.7 891.6,340.4L880.7,348.3C881.5,349.2 882.8,350.8 885.3,353.8C887.9,356.8 891.9,361.5 896,366.2C900.1,371 905.5,376.9 910.2,382.2C915,387.6 919.7,393.2 924.4,398.2C929.2,403.3 933.9,407.9 938.7,412.4C943.4,416.9 950.5,423.1 952.9,425.2C956.1,423.1 965.6,417.2 972.4,412.4C979.3,407.6 986.7,401.6 993.8,396.4C1000.9,391.3 1009,385.6 1015.1,381.3C1021.2,377 1027.7,372.4 1030.2,370.7Z" fill="#7ebaa0" stroke="none"/>
<path d="M1021.6,322.2C1020.5,322.4 1017.6,322.7 1015.3,323.6C1013.1,324.4 1010.6,325.9 1008.2,327.6C1005.9,329.2 1003.5,331.4 1001.1,333.3C998.7,335.3 996.5,337.2 994,339.1C991.5,341 988.7,342.7 986,344.9C983.3,347 980.5,349.6 978,352C975.5,354.4 973.3,356.6 970.9,359.1C968.5,361.6 966.9,363.6 963.8,367.1C960.7,370.6 954.1,377.9 952.2,380C949.1,378 940,372.4 933.3,368C926.6,363.6 919,358.4 912,353.8C905,349.2 895,342.7 891.6,340.4L880.7,348.3C881.5,349.2 882.8,350.8 885.3,353.8C887.9,356.8 891.9,361.5 896,366.2C900.1,371 905.5,376.9 910.2,382.2C915,387.6 919.7,393.2 924.4,398.2C929.2,403.3 933.9,407.9 938.7,412.4C943.4,416.9 950.5,423.1 952.9,425.2C956.1,423.1 965.6,417.2 972.4,412.4C979.3,407.6 986.7,401.6 993.8,396.4C1000.9,391.3 1009,385.6 1015.1,381.3C1021.2,377 1027.7,372.4 1030.2,370.7" fill="none" stroke="#0a120e" stroke-width="1.45"/>
<path d="M886,354.4L898.4,345.6" fill="none" stroke="#0a120e" stroke-width="1.45"/>
<path d="M892.2,340.2C892.4,338.3 893.2,332.4 893.1,328.7C893,325 892.7,321.4 891.7,318C890.7,314.6 888.4,310.8 886.9,308.2C885.3,305.6 883.7,303.7 882.4,302.4C881.2,301 880.3,299.9 879.4,299.9C878.5,299.8 877.2,300.6 877.1,302C877,303.4 878,306.1 878.9,308.2C879.8,310.3 881.9,313.4 882.4,314.4C881.6,313.7 878.9,312.4 877.1,310C875.3,307.6 873.6,303.2 871.8,300.2C870,297.3 867.8,294.1 866.4,292.2C865.1,290.4 864.3,289.3 863.4,289.2C862.5,289.1 861.1,289.6 861.1,291.3C861.2,293 862.6,296.5 863.8,299.3C865,302.1 867.5,306.7 868.2,308.2C867,306.7 863,302 861.1,299.3C859.2,296.7 857.9,293.7 856.7,292.2C855.5,290.7 854.7,290.1 854,290.3C853.3,290.4 852.1,291.2 852.4,293.1C852.7,295.1 854.2,298.6 855.8,302C857.4,305.4 861,311.6 862,313.6C861.1,312.4 858.3,308.6 856.7,306.4C855,304.3 853.4,301.8 852.2,300.6C851,299.4 850,298.9 849.4,299.2C848.8,299.5 848,300.7 848.5,302.4C849,304 850.6,306.4 852.2,309.1C853.9,311.9 857.4,317.3 858.4,318.9C857.6,318.1 854.7,315.5 853.1,314.4C851.6,313.4 850.2,312.6 849.2,312.7C848.2,312.7 846.7,313.5 847.1,314.8C847.4,316.1 849,318.2 851.3,320.7C853.7,323.1 858,326.4 861.1,329.6C864.2,332.7 866.7,336.2 870,339.3C873.3,342.4 878.9,346.7 880.7,348.2" fill="#fff" stroke="#0a120e" stroke-width="1.5"/>
<path d="M930.8,249.2C930.4,250.7 928.9,254.9 928.3,258.3C927.8,261.8 927.8,266.9 927.5,270C927.2,273.1 927.5,274.2 926.7,276.7C925.8,279.2 923.2,283.6 922.5,285L920.8,288.3C921.2,288.9 922.2,290.7 923.3,291.7C924.4,292.6 926.8,293.8 927.5,294.2C927.8,294.9 928.5,296.5 929.2,298.3C929.9,300.1 930.6,302.6 931.7,305C932.8,307.4 934.4,310.6 935.8,312.5C937.2,314.4 939.3,316 940,316.7C941.1,316.5 944.4,316.5 946.7,315.8C948.9,315.1 951.2,313.5 953.3,312.5C955.4,311.5 958.2,310.4 959.2,310" fill="#fff" stroke="#0a120e" stroke-width="1.45"/>
<path d="M959.2,310L950.8,313.8L955.8,322C956.2,320.8 957.8,317 958.3,315C958.9,313 959,310.8 959.2,310Z" fill="#000" stroke="#000" stroke-width="1"/>
<path d="M930,248.3L929.2,245C929.7,244.6 931.8,243.9 932.5,242.5C933.2,241.1 932.5,238.5 933.3,236.7C934.2,234.9 936,232.6 937.5,231.7C939,230.7 941.1,230.7 942.5,230.8C943.9,231 945.3,232.4 945.8,232.7C946.4,232.2 947.9,230.2 949.2,229.7C950.4,229.1 952.6,229.2 953.3,229.2L953,234.2C955.3,234.3 962.4,234.3 966.7,235C970.9,235.7 974.7,236.7 978.3,238.3C981.9,240 985.7,242.5 988.3,245C991,247.5 993.1,250.3 994.2,253.3C995.2,256.4 995.1,260 994.7,263.3C994.2,266.7 992.9,270 991.7,273.3C990.5,276.7 989,280.4 987.5,283.3C986,286.2 984.3,289.2 982.5,290.8C980.7,292.5 978.5,293.2 976.7,293.3C974.9,293.5 972.9,292.6 971.7,291.7C970.4,290.7 969.6,288.2 969.2,287.5C969.9,286.5 972.2,283.8 973.3,281.7C974.4,279.6 975.6,277.2 975.8,275C976.1,272.8 975.7,269.9 975,268.3C974.3,266.8 972.2,266.2 971.7,265.8C971,266.4 968.8,267.5 967.5,269.2C966.2,270.8 965.3,274.3 964.2,275.8C963.1,277.4 961.8,278.3 960.8,278.3C959.9,278.3 958.6,277.2 958.3,275.8C958.1,274.4 959.6,271.8 959.2,270C958.8,268.2 957.4,266.2 955.8,265C954.3,263.8 951.4,263.5 950,262.5C948.6,261.5 947.6,260.4 947.5,259.2C947.4,257.9 947.9,256.4 949.2,255C950.4,253.6 954,251.5 955,250.8C954.2,250.4 952.2,248.9 950,248.3C947.8,247.8 944.2,247.4 941.7,247.5C939.2,247.6 936.9,249 935,249.2C933.1,249.3 930.8,248.5 930,248.3Z" fill="#000" stroke="#000" stroke-width="1"/>
<ellipse cx="934.2" cy="276.7" rx="1.5" ry="2.8" fill="#0a120e"/>
<path d="M930,270C930.7,269.4 932.5,266.8 934.2,266.3C935.8,265.8 939,266.9 940,267" fill="none" stroke="#0a120e" stroke-width="1.45"/>
<path d="M932.5,297.5C933.2,297.5 935.4,298.2 936.7,297.5C937.9,296.8 939.4,294 940,293.3" fill="none" stroke="#0a120e" stroke-width="1.45"/>
<path d="M964,457C966.7,457.7 973.3,459.8 980,461C986.7,462.2 996,463.8 1004,464C1012,464.2 1019.8,463.5 1028,462C1036.2,460.5 1048.8,456.2 1053,455C1053.3,460.8 1054.7,477.5 1055,490C1055.3,502.5 1055.2,516.7 1055,530C1054.8,543.3 1054.5,558.3 1054,570C1053.5,581.7 1052.2,586.7 1052,600C1051.8,613.3 1052.3,635 1053,650C1053.7,665 1055.2,678.3 1056,690C1056.8,701.7 1057.7,715 1058,720L1033,721C1031.8,715.8 1028.5,700.2 1026,690C1023.5,679.8 1020.7,671 1018,660C1015.3,649 1011.7,633.3 1010,624C1008.3,614.7 1008.7,611.3 1008,604C1007.3,596.7 1006.7,588.7 1006,580C1005.3,571.3 1004.5,561 1004,552C1003.5,543 1003.2,530.3 1003,526C1001.5,529.3 997.2,538.7 994,546C990.8,553.3 987.3,561.7 984,570C980.7,578.3 977.5,582.7 974,596C970.5,609.3 965.7,634.3 963,650C960.3,665.7 959.8,678.3 958,690C956.2,701.7 953,715 952,720L925,716C925.2,711.7 925.5,699.3 926,690C926.5,680.7 927.5,670 928,660C928.5,650 928.3,640.7 929,630C929.7,619.3 930.5,606 932,596C933.5,586 935.7,578.7 938,570C940.3,561.3 943,554 946,544C949,534 953.3,520.7 956,510C958.7,499.3 960.7,488.8 962,480C963.3,471.2 963.7,460.8 964,457Z" fill="#000" stroke="#000" stroke-width="1"/>
<path d="M925,716.4C923.8,717.5 920.8,720.9 918,723C915.2,725.1 911.3,727.7 908,729C904.7,730.3 901.8,730.7 898,731C894.2,731.3 887.2,731 885,731L884,734C884.7,735 885.7,738.2 888,740C890.3,741.8 893.7,743.5 898,745C902.3,746.5 908,748.2 914,749C920,749.8 928,749.9 934,750C940,750.1 947.3,749.7 950,749.6L952.6,747L952.4,720Z" fill="#fff" stroke="#000" stroke-width="1.6"/>
<path d="M884.4,731.6L884,734C884.7,735 885.7,738.2 888,740C890.3,741.8 893.7,743.5 898,745C902.3,746.5 908,748.2 914,749C920,749.8 928,749.9 934,750C940,750.1 947.3,749.7 950,749.6L952.6,747L952.2,743.2C948.5,743.4 937,744.5 930,744.4C923,744.3 916,743.5 910,742.4C904,741.3 898.3,739.8 894,738C889.7,736.2 886,732.7 884.4,731.6Z" fill="#000" stroke="#000" stroke-width="1"/>
<path d="M1033,721C1032.3,722.5 1030.8,726.8 1029,730C1027.2,733.2 1024.5,737.2 1022,740C1019.5,742.8 1016.7,744.9 1014,747C1011.3,749.1 1007.3,751.5 1006,752.4L1005.6,755.6C1006.3,756 1007.3,757.5 1010,758C1012.7,758.5 1017.3,758.7 1022,758.4C1026.7,758.1 1033,757.2 1038,756C1043,754.8 1048.2,752.7 1052,751C1055.8,749.3 1059.5,746.8 1061,746L1063.6,742C1063.2,740.3 1061.9,735.7 1061,732C1060.1,728.3 1058.5,722 1058,720Z" fill="#fff" stroke="#000" stroke-width="1.6"/>
<path d="M1006.4,752.4L1005.6,755.6C1006.3,756 1007.3,757.5 1010,758C1012.7,758.5 1017.3,758.7 1022,758.4C1026.7,758.1 1033,757.2 1038,756C1043,754.8 1048.2,752.7 1052,751C1055.8,749.3 1059.5,746.8 1061,746L1063.6,742L1062.4,740.6C1060.7,741.5 1056.1,744.4 1052,746C1047.9,747.6 1043,749.2 1038,750.4C1033,751.6 1027.3,752.7 1022,753C1016.7,753.3 1009,752.5 1006.4,752.4Z" fill="#000" stroke="#000" stroke-width="1"/>
</svg>
<!--/FIGS-->

</body>
</html>
